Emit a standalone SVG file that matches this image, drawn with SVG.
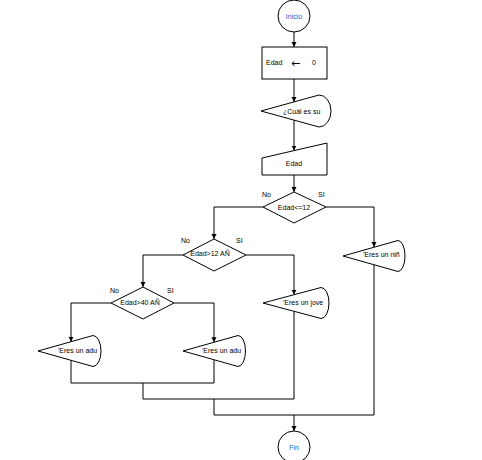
<svg xmlns="http://www.w3.org/2000/svg" width="482" height="460" viewBox="0 0 482 460">
<defs>
<style>
.s{fill:#fff;stroke:#000;stroke-width:1}
.c{fill:none;stroke:#000;stroke-width:1}
text{font-family:"Liberation Sans",Arial,sans-serif;font-size:7px;fill:#000}
.m{text-anchor:middle}
.b{fill:#1f5fc8}
.ar{font-family:"DejaVu Sans",sans-serif;font-size:11px}
</style>
<marker id="a" markerUnits="userSpaceOnUse" markerWidth="6" markerHeight="6" refX="5" refY="2.5" orient="auto">
<path d="M0,0 L5,2.5 L0,5 Z" fill="#000"/>
</marker>
</defs>
<rect width="482" height="460" fill="#fff"/>
<g id="connectors">
<path class="c" d="M294,32 V47" marker-end="url(#a)"/>
<path class="c" d="M294,79 V102" marker-end="url(#a)"/>
<path class="c" d="M294,120 V150.5" marker-end="url(#a)"/>
<path class="c" d="M294,175 V192" marker-end="url(#a)"/>
<path class="c" d="M263,207 H214 V239" marker-end="url(#a)"/>
<path class="c" d="M326,207 H374 V247" marker-end="url(#a)"/>
<path class="c" d="M246,255 H294 V294.6" marker-end="url(#a)"/>
<path class="c" d="M183,255 H143 V287" marker-end="url(#a)"/>
<path class="c" d="M111,303 H71 V341.7" marker-end="url(#a)"/>
<path class="c" d="M174,303 H214 V342.3" marker-end="url(#a)"/>
<path class="c" d="M71,360.3 V383 H214 V359.7"/>
<path class="c" d="M143,383 V399 H294 V311.4"/>
<path class="c" d="M214,399 V415 H374 V264.7"/>
<path class="c" d="M294,415 V431" marker-end="url(#a)"/>
</g>
<g id="inicio">
<circle class="s" cx="294" cy="16" r="16"/>
<text class="m b" x="294" y="18.5">Inicio</text>
</g>
<g id="asignar">
<rect class="s" x="262" y="47" width="65" height="32"/>
<text x="266" y="65">Edad</text>
<text class="m ar" x="295.5" y="67">←</text>
<text x="312" y="65">0</text>
</g>
<g id="mostrar-cual">
<path class="s" d="M261,111 L319,95 A12,16 0 0 1 319,127 Z"/>
<text x="283" y="114">¿Cuál es su</text>
</g>
<g id="leer-edad">
<path class="s" d="M262,158 L327,143 L327,175 L262,175 Z"/>
<text class="m" x="294" y="166">Edad</text>
</g>
<g id="decision1">
<path class="s" d="M294,192 L326,207 L294,223 L263,207 Z"/>
<text class="m" x="294" y="209.5">Edad&lt;=12</text>
<text x="262" y="197">No</text>
<text x="318" y="197">SI</text>
</g>
<g id="decision2">
<path class="s" d="M214,239 L246,255 L214,271 L183,255 Z"/>
<text class="m" x="210" y="256">Edad&gt;12 AÑ</text>
<text x="181" y="243">No</text>
<text x="236" y="243">SI</text>
</g>
<g id="decision3">
<path class="s" d="M143,287 L174,303 L143,319 L111,303 Z"/>
<text class="m" x="140" y="305">Edad&gt;40 AÑ</text>
<text x="110" y="293">No</text>
<text x="167" y="293">SI</text>
</g>
<g id="nino">
<path class="s" d="M343,256 L398,240.5 A7,15.5 0 0 1 398,271.5 Z"/>
<text x="363" y="257">'Eres un niñ</text>
</g>
<g id="joven">
<path class="s" d="M263,303 L321,287.5 A8,15.5 0 0 1 321,318.5 Z"/>
<text x="283" y="305">'Eres un jove</text>
</g>
<g id="adulto1">
<path class="s" d="M38,351 L93,335.5 A8,15.5 0 0 1 93,366.5 Z"/>
<text x="58" y="353">'Eres un adu</text>
</g>
<g id="adulto2">
<path class="s" d="M183,351 L238,335.5 A7.5,15.5 0 0 1 238,366.5 Z"/>
<text x="202" y="353">'Eres un adu</text>
</g>
<g id="fin">
<circle class="s" cx="294" cy="447" r="16"/>
<text class="m b" x="294" y="449.5">Fin</text>
</g>
</svg>
